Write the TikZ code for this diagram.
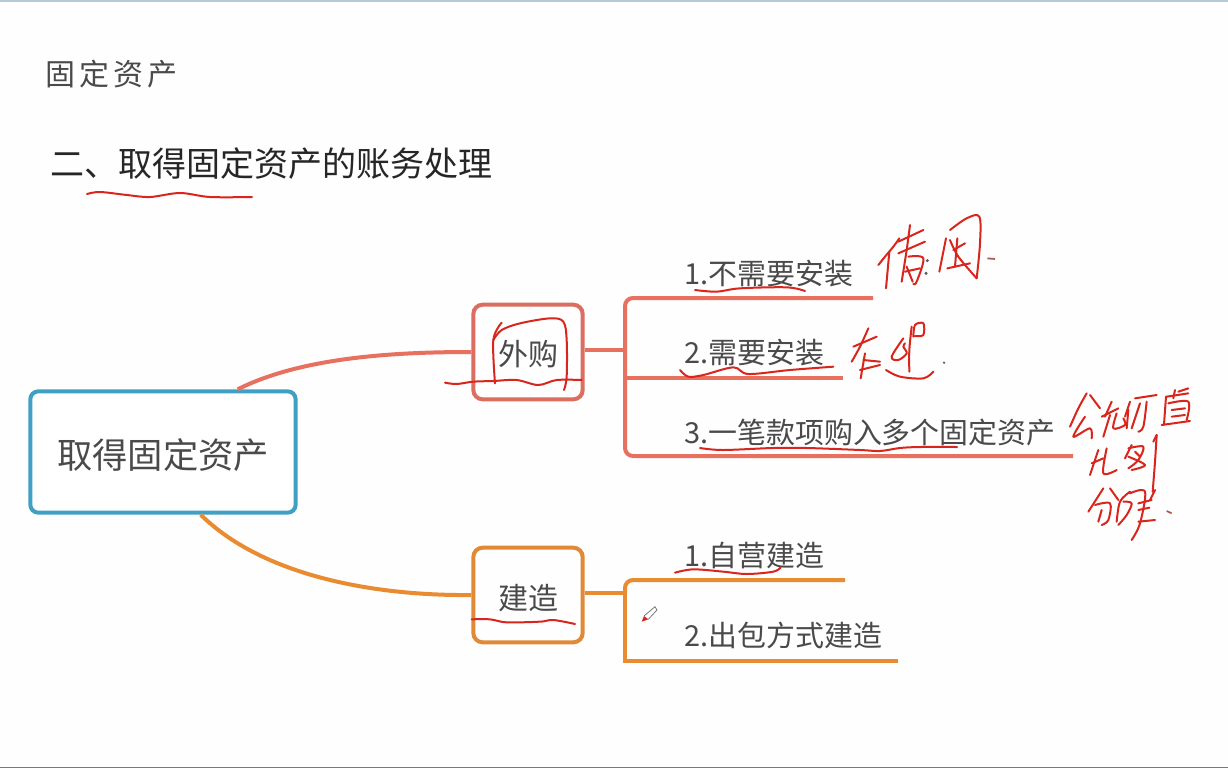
\documentclass[tikz,border=0pt]{standalone}
\usepackage{fontspec}
\setmainfont{Noto Sans CJK SC}
\usetikzlibrary{calc}
\definecolor{bgc}{HTML}{FEFEFE}
\definecolor{txtc}{HTML}{4A4A4A}
\definecolor{coral}{HTML}{E8705F}
\definecolor{coralbox}{HTML}{DB6E60}
\definecolor{orangeb}{HTML}{E98B30}
\definecolor{orangebox}{HTML}{E08A38}
\definecolor{bluebox}{HTML}{3FA0C4}
\definecolor{inkc}{HTML}{D8261C}
\definecolor{topbar}{HTML}{B5CCD8}
\definecolor{botbar}{HTML}{6A7F8C}
\newcommand{\fs}[1]{\fontsize{#1}{#1}\selectfont}
\newcommand{\inkline}[1]{\draw[ink] plot[smooth,tension=.55] coordinates {#1};}
\newcommand{\lowered}[2]{\raisebox{-#1}[.88em][.12em]{#2}}
\tikzset{
  ink/.style={draw=inkc,line width=1.5pt,line cap=round,line join=round},
  rootbox/.style={draw=bluebox,line width=3pt,rounded corners=6pt,fill=white,minimum width=199pt,minimum height=91pt,text=txtc,font=\fs{26.5pt}},
  corabox/.style={draw=coralbox,line width=3pt,rounded corners=7pt,minimum width=82pt,minimum height=71pt,text=txtc,font=\fs{22.5pt},inner sep=0pt},
  orabox/.style={draw=orangebox,line width=3pt,rounded corners=7pt,minimum width=82pt,minimum height=71pt,text=txtc,font=\fs{22.5pt},inner sep=0pt},
  leaf/.style={anchor=west,text=txtc,font=\fs{21.7pt},inner sep=0pt},
  corline/.style={draw=coral,line width=3pt},
  oraline/.style={draw=orangeb,line width=3pt}
}
\begin{document}
\begin{tikzpicture}[x=0.75pt,y=-0.75pt]
\useasboundingbox (0,0) rectangle (1228,768);
\fill[bgc] (0,0) rectangle (1228,768);
\fill[topbar] (0,0) rectangle (1228,2);
\fill[botbar] (0,766.5) rectangle (1228,768);
% headings
\node[anchor=west,text=txtc,font=\fs{22.5pt},inner sep=0pt] (h1) at (45,74) {固\hspace{3pt}定\hspace{3pt}资\hspace{3pt}产};
\node[anchor=west,text=black!85,font=\fs{25.5pt},inner sep=0pt] (h2) at (50.5,164) {二、取得固定资产的账务处理};
% nodes
\node[rootbox] (root) at (163,452) {\lowered{2.2pt}{取得固定资产}};
\node[corabox] (wg) at (528,352) {\lowered{1.5pt}{外购}};
\node[orabox] (jz) at (528,595) {\lowered{2.2pt}{建造}};
\node[leaf] (a1) at (684,274) {1.不需要安装};
\node[leaf] (a2) at (684,353) {2.需要安装};
\node[leaf] (a3) at (684,432) {3.一笔款项购入多个固定资产};
\node[leaf] (b1) at (684,556) {1.自营建造};
\node[leaf] (b2) at (684,635) {2.出包方式建造};
% end points of the branch rules
\coordinate (t1) at (625,350);
\coordinate (e1) at (873,298);
\coordinate (e2) at (843,378);
\coordinate (e3) at (1073,456);
\coordinate (t2) at (625,593);
\coordinate (e4) at (845,580);
\coordinate (e5) at (898,661);
% connectors
\draw[corline] (root.40) .. controls (300,358) and (390,352) .. (wg.west);
\draw[oraline] (root.-59) .. controls (265,578) and (380,596) .. (jz.west);
\draw[corline] (wg.east |- t1) -- (t1);
\draw[corline,rounded corners=6pt] (e1) -| (t1) |- (e3);
\draw[corline] (t1 |- e2) -- (e2);
\draw[oraline] (jz.east |- t2) -- (t2);
\draw[oraline,rounded corners=6pt] (e4) -| (t2);
\draw[oraline] (t2) -- (t2 |- e5) -- (e5);
% title underline
\inkline{(87,194)(100,192)(127,195)(150,197)(180,193)(210,197)(252,197)}
% underlines and marks
\begin{scope}[shift={(440,280)},x=0.25pt,y=-0.25pt]
\inkline{(185,128)(160,180)(165,310)}
\inkline{(160,180)(185,150)(240,130)(330,115)(370,125)(380,180)(380,290)(372,330)}
\inkline{(15,308)(50,312)(100,305)(160,303)(230,300)(295,315)(350,300)(425,300)}
\inkline{(720,270)(745,290)(790,285)(880,262)(925,282)(1050,270)(1180,260)}
\inkline{(765,30)(830,35)(900,25)(1040,22)(1095,33)}
\inkline{(705,878)(760,868)(850,875)(920,882)(1000,875)(1022,862)}
\inkline{(95,1018)(150,1018)(200,1027)(300,1025)(340,1020)(405,1032)}
% pencil cursor
\fill[inkc] (605,1025) -- (612,1008) -- (625,1018) -- cycle;
\draw[black!60,line width=.5pt] (612,1008) -- (645,980) -- (651,990) -- (625,1018);
\end{scope}
\inkline{(700,448)(723,450)(773,448)(807,448)(860,450)(880,451)(900,448)(920,447)(957,447)}
% handwriting, upper notes
\begin{scope}[shift={(870,210)},x=0.25pt,y=-0.25pt]
\inkline{(88,85)(70,110)(45,140)(25,165)}
\inkline{(58,125)(48,235)}
\inkline{(120,45)(110,120)(95,215)}
\inkline{(85,95)(160,60)}
\inkline{(85,130)(165,95)}
\inkline{(115,140)(160,145)(140,215)(130,222)}
\inkline{(105,185)(150,175)}
\inkline{(110,170)(128,215)}
\fill[black!65] (172,152) circle (5);
\fill[black!65] (168,190) circle (5);
\inkline{(228,85)(208,185)}
\inkline{(240,60)(290,25)(328,20)(330,100)(320,205)}
\inkline{(240,90)(265,140)(320,205)}
\inkline{(232,175)(300,160)}
\inkline{(250,120)(285,100)}
\inkline{(262,85)(255,170)}
\draw[draw=inkc!60!black!70,line width=1.3pt] (352,145) -- (375,147);
\inkline{(130,380)(135,345)(160,340)(160,375)(135,378)}
\inkline{(125,350)(118,420)(118,485)}
\inkline{(100,385)(65,440)(85,450)(110,430)(100,410)(105,400)}
\inkline{(48,480)(90,500)(160,505)(190,485)}
\fill[black!60] (222,458) circle (4);
\end{scope}
\begin{scope}[shift={(840,200)},x=0.25pt,y=-0.25pt]
\inkline{(85,385)(60,440)(35,485)}
\inkline{(40,440)(110,410)}
\inkline{(75,460)(62,535)}
\inkline{(70,480)(120,485)}
\inkline{(60,510)(120,495)}
\end{scope}
% handwriting, right-hand note
\begin{scope}[shift={(1060,385)},x=0.25pt,y=-0.25pt]
\inkline{(80,25)(55,70)(30,125)}
\inkline{(75,95)(40,155)(90,130)(95,160)}
\inkline{(90,30)(120,70)}
\inkline{(155,50)(135,95)}
\inkline{(125,95)(175,70)}
\inkline{(150,90)(130,155)}
\inkline{(170,85)(160,130)(195,120)(190,100)}
\inkline{(210,50)(195,95)}
\inkline{(205,75)(200,130)}
\inkline{(225,40)(290,30)}
\inkline{(240,55)(215,130)}
\inkline{(260,50)(250,125)(235,140)}
\inkline{(355,20)(385,10)}
\inkline{(320,35)(385,25)}
\inkline{(345,15)(340,40)}
\inkline{(318,35)(312,118)}
\inkline{(325,55)(385,50)(380,105)}
\inkline{(335,75)(375,70)}
\inkline{(335,95)(375,90)}
\inkline{(305,120)(390,108)}
\inkline{(115,195)(90,270)}
\inkline{(95,235)(130,220)}
\inkline{(140,190)(130,265)(170,255)}
\inkline{(215,180)(195,220)}
\inkline{(205,190)(250,185)(235,225)(205,250)}
\inkline{(205,215)(255,240)(215,255)}
\inkline{(225,200)(240,215)}
\inkline{(290,150)(285,230)(278,320)}
\inkline{(280,170)(290,150)}
\inkline{(130,310)(85,380)}
\inkline{(150,310)(175,345)}
\inkline{(105,360)(150,355)(145,405)(125,420)}
\inkline{(125,375)(115,410)}
\inkline{(210,320)(180,350)(170,410)}
\inkline{(190,350)(215,355)(200,390)(175,420)}
\inkline{(210,325)(255,320)(240,415)(215,465)}
\inkline{(235,355)(275,345)}
\inkline{(235,375)(268,368)}
\inkline{(235,410)(285,405)}
\inkline{(285,315)(270,345)}
\draw[draw=inkc!60!black!70,line width=1.3pt] (320,378) -- (335,385);
\end{scope}
\end{tikzpicture}
\end{document}
